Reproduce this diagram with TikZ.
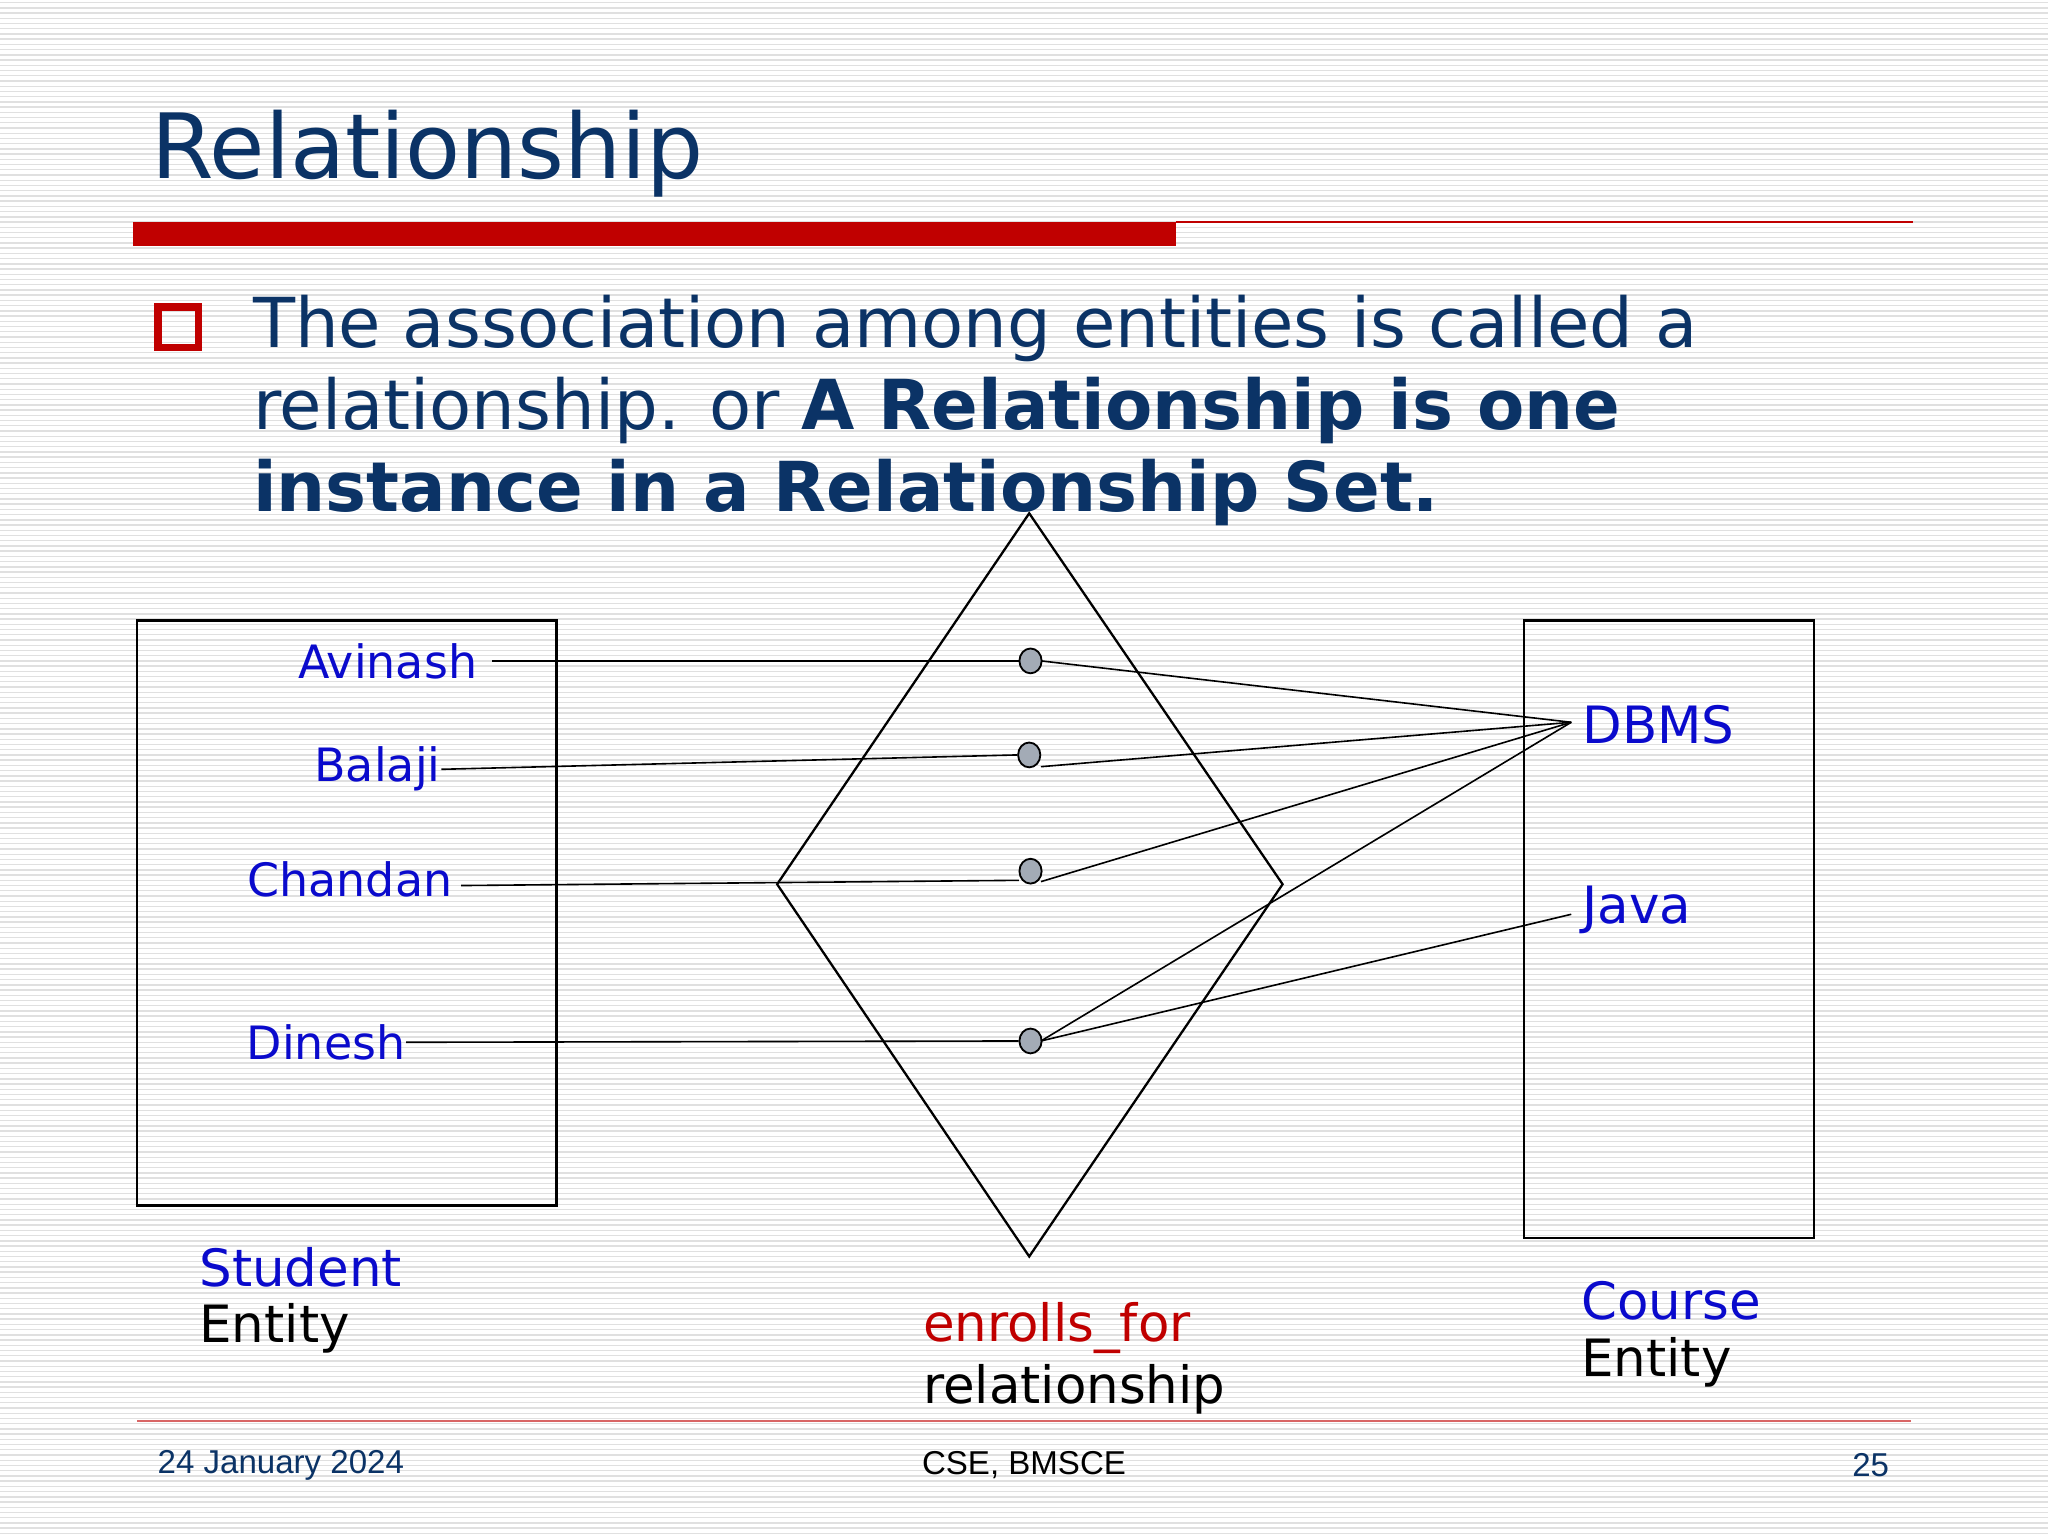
\documentclass[tikz,border=0pt]{standalone}
\usepackage{fontspec}
\usetikzlibrary{shapes.geometric}
\setmainfont{DejaVu Sans}
\newfontfamily\arialf{Liberation Sans}
\definecolor{navy}{HTML}{0B3366}
\definecolor{lblue}{HTML}{0A0ACC}
\definecolor{dred}{HTML}{C00000}
\definecolor{dotc}{HTML}{A3ABB6}
\begin{document}
\begin{tikzpicture}[x=0.01cm,y=-0.01cm,
  lbl/.style={text=lblue,font=\fontsize{10pt}{12pt}\selectfont,inner sep=0pt},
  big/.style={font=\fontsize{11.2pt}{13pt}\selectfont,inner sep=0pt,anchor=west},
  dotn/.style={ellipse,draw,fill=dotc,minimum width=0.17cm,minimum height=0.19cm,inner sep=0pt},
  ln/.style={draw,line width=0.35pt}]
\fill[white] (0,0) rectangle (1568,1176);
\useasboundingbox (0,0) rectangle (1568,1176);
\foreach \y in {2,6,...,1176} \draw[black!12,line width=0.3pt] (0,\y) -- (1568,\y);
\node[anchor=base west,inner sep=0pt,text=navy,font=\fontsize{19.6pt}{24pt}\selectfont] (title) at (115,137) {Relationship};
\fill[dred] (102,170) rectangle (900,188);
\draw[dred,line width=0.4pt] (900,170) -- (1465,170);
\draw[dred,line width=1.6pt] (121,235) rectangle (152,266);
\node[anchor=north west,inner sep=0pt,text=navy,align=left,font=\fontsize{15pt}{17.9pt}\selectfont] (body) at (193,225) {The association among entities is called a\\relationship. or \textbf{A Relationship is one}\\\textbf{instance in a Relationship Set.}};
\draw[line width=0.5pt] (105,475) rectangle (426,923);
\draw[line width=0.5pt] (1167,475) rectangle (1389,948);
\draw[line width=0.5pt] (788,393) -- (982,677) -- (788,962) -- (595,677) -- cycle;
\node[lbl,anchor=east] (av) at (366,506) {Avinash};
\node[lbl,anchor=east] (ba) at (338,589) {Balaji};
\node[lbl,anchor=east] (ch) at (347,673) {Chandan};
\node[lbl,anchor=east] (di) at (311,798) {Dinesh};
\node[big,text=lblue] (dbms) at (1211,555) {DBMS};
\node[big,text=lblue] (java) at (1211,697) {Java};
\coordinate (pd) at (1203,553);
\coordinate (pj) at (1203,700);
\node[dotn] (d1) at (789,506) {};
\node[dotn] (d2) at (788,578) {};
\node[dotn] (d3) at (789,667) {};
\node[dotn] (d4) at (789,797) {};
\draw[ln] (377,506) -- (d1.west);
\draw[ln] (ba.east) -- (d2.west);
\draw[ln] (353,678) -- (780,674);
\draw[ln] (di.east) -- (d4.west);
\draw[ln] (797,506) -- (pd);
\draw[ln] (797,587) -- (pd);
\draw[ln] (797,675) -- (pd);
\draw[ln] (797,797) -- (pd);
\draw[ln] (797,797) -- (pj);
\node[big,text=lblue] (st) at (152,970) {Student};
\node[big] (se) at (152,1017) {Entity};
\node[big,text=dred] (en) at (706,1017) {enrolls\_for};
\node[big] (re) at (706,1064) {relationship};
\node[big,text=lblue] (co) at (1210,996) {Course};
\node[big] (ce) at (1210,1043) {Entity};
\draw[dred!60,line width=0.4pt] (105,1088) -- (1463,1088);
\node[inner sep=0pt,anchor=west,text=navy,font=\arialf\fontsize{7.2pt}{9pt}\selectfont] (f1) at (120,1122) {24 January 2024};
\node[inner sep=0pt,font=\arialf\fontsize{7.2pt}{9pt}\selectfont] (f2) at (784,1122) {CSE, BMSCE};
\node[inner sep=0pt,anchor=east,text=navy,font=\arialf\fontsize{7.2pt}{9pt}\selectfont] (f3) at (1447,1122) {25};
\end{tikzpicture}
\end{document}
